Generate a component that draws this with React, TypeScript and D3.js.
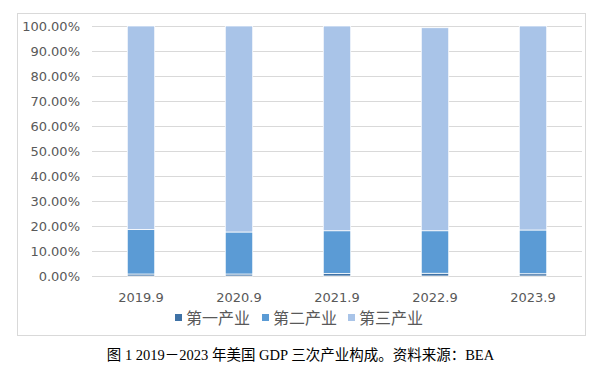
import React from "react";
import * as d3 from "d3";

const categories = ["2019.9", "2020.9", "2021.9", "2022.9", "2023.9"];
const seriesNames = ["第一产业", "第二产业", "第三产业"];
const primary = [0.8, 0.8, 1.0, 1.1, 0.9];
const secondary = [17.8, 16.8, 17.1, 17.0, 17.5];
const tertiary = [81.4, 82.4, 81.9, 81.2, 81.6];
const yTicks = [0, 10, 20, 30, 40, 50, 60, 70, 80, 90, 100];
const caption = "图 1 2019－2023 年美国 GDP 三次产业构成。资料来源：BEA";

const colors = ["#3f72a6", "#5b9bd5", "#a9c4e8"];

export default function App() {
  const W = 604, H = 379;
  const x = d3.scaleBand<string>().domain(categories).range([92, 582]).paddingInner(0.72).paddingOuter(0.36);
  const y = d3.scaleLinear().domain([0, 100]).range([276, 26]);
  const rows = categories.map((c, i) => ({ cat: c, s0: primary[i], s1: secondary[i], s2: tertiary[i] }));
  const stack = d3.stack<any>().keys(["s0", "s1", "s2"]);
  const layers = stack(rows);
  const font = "'DejaVu Sans', sans-serif";
  const cjk = "'Noto Sans CJK SC', sans-serif";
  const legendX = [175, 262, 348];
  return (
    <svg width={W} height={H} style={{ position: "absolute", left: 0, top: 0, background: "#fff" }}>
      <rect x={17.5} y={13.5} width={568} height={322} fill="#fff" stroke="#d9d9d9" strokeWidth={1} />
      {yTicks.map((t) => (
        <g key={t}>
          <line x1={92} x2={582} y1={Math.round(y(t)) + 0.5} y2={Math.round(y(t)) + 0.5} stroke="#d9d9d9" strokeWidth={1} />
          <text x={80} y={y(t)} dy="0.35em" textAnchor="end" fontFamily={font} fontSize={13} fill="#595959">
            {t.toFixed(2) + "%"}
          </text>
        </g>
      ))}
      {layers.map((layer, li) => (
        <g key={li} fill={colors[li]}>
          {layer.map((d: any, i: number) => (
            <rect
              key={i}
              x={x(d.data.cat)}
              width={x.bandwidth()}
              y={y(d[1])}
              height={y(d[0]) - y(d[1])}
              stroke="#fff"
              strokeWidth={0.75}
            />
          ))}
        </g>
      ))}
      {categories.map((c) => (
        <text key={c} x={(x(c) as number) + x.bandwidth() / 2} y={297} dy="0.35em" textAnchor="middle" fontFamily={font} fontSize={13} fill="#595959">
          {c}
        </text>
      ))}
      {seriesNames.map((n, i) => (
        <g key={n}>
          <rect x={legendX[i]} y={314} width={7} height={7} fill={colors[i]} />
          <text x={legendX[i] + 11} y={318} dy="0.35em" fontFamily={cjk} fontSize={16} fill="#595959">
            {n}
          </text>
        </g>
      ))}
      <text x={300.5} y={355} dy="0.35em" textAnchor="middle" fontFamily="'Liberation Serif', 'Noto Sans CJK SC', serif" fontSize={14.5} fill="#000">
        {caption}
      </text>
    </svg>
  );
}
